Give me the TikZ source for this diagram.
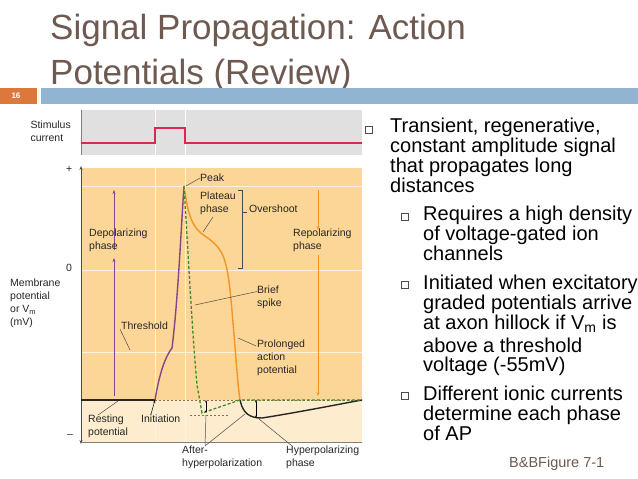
\documentclass[tikz,border=0pt]{standalone}
\usepackage{fontspec}
\setmainfont{Liberation Sans}
\usetikzlibrary{arrows.meta}
\definecolor{titlec}{RGB}{110,90,80}
\definecolor{numc}{RGB}{220,120,60}
\definecolor{barc}{RGB}{145,180,210}
\definecolor{stimc}{RGB}{220,40,80}
\definecolor{panelc}{RGB}{252,214,150}
\definecolor{panell}{RGB}{253,236,205}
\definecolor{purp}{RGB}{130,70,140}
\definecolor{orng}{RGB}{240,150,40}
\definecolor{grn}{RGB}{60,140,40}
\definecolor{refc}{RGB}{150,110,60}
\begin{document}
\begin{tikzpicture}[x=1pt,y=-1pt,
  lab/.style={font=\fontsize{10.5}{12.8}\selectfont,text=black!85,align=left,anchor=north west,inner sep=0pt},
  body/.style={font=\fontsize{20}{19.8}\selectfont,align=left,anchor=north west,inner sep=0pt,text=black},
  bul/.style={draw=black!70,line width=0.5pt,minimum size=7pt,inner sep=0pt},
  lead/.style={draw=black!70,line width=0.5pt}]
\useasboundingbox (0,0) rectangle (638,479);
\fill[white] (0,0) rectangle (638,479);
% title
\node[anchor=west,inner sep=0pt,text=titlec,font=\fontsize{35}{45}\selectfont,align=left] (title) at (50,53) {Signal Propagation: Action\\Potentials (Review)};
\fill[numc] (0,88) rectangle (37,104);
\node[text=white,font=\bfseries\fontsize{8}{9}\selectfont] (num) at (16,96) {16};
\fill[barc] (41,88) rectangle (638,104);
% stimulus panel
\fill[black!12] (81,110) rectangle (362,155);
\draw[black!50,line width=0.5pt] (81,110) -- (81,155);
\draw[white,line width=0.6pt] (155,110)--(155,155) (185,110)--(185,155);
\draw[stimc,line width=1.2pt] (81,143) -- (155,143) -- (155,128) -- (185,128) -- (185,143) -- (362,143);
\node[lab,anchor=north east] (stim) at (71,121) {Stimulus\\current};
% main panel
\fill[panelc] (81,168) rectangle (362,400);
\fill[panell] (81,400) rectangle (362,442);
\draw[white!70!panelc,line width=0.4pt] (81,186)--(362,186) (81,270)--(362,270) (81,352)--(362,352) (155,168)--(155,442) (185,168)--(185,442);
\draw[black!70,line width=0.7pt,{Stealth[length=4pt]}-{Stealth[length=4pt]}] (81,166) -- (81,444);
\draw[black!50,line width=0.5pt] (81,442) -- (362,442);
\node[lab] (plus) at (66,166) {+};
\node[lab] (zero) at (66,264) {0};
\node[lab] (minus) at (67,434) {--};
\node[lab] (mem) at (10,279) {Membrane\\potential\\or V\textsubscript{m}\\(mV)};
% reference dashed lines
\draw[refc,dash pattern=on 2pt off 2pt,line width=0.5pt] (155,400) -- (362,400) (190,415) -- (228,415);
% curves
\draw[black!85,line width=1.4pt] (81,400) -- (155,400);
\draw[purp,line width=1.4pt] (155,400) .. controls (160,370) and (166,356) .. (172,348) .. controls (178,300) and (181,230) .. (184,186);
\draw[orng,line width=1.4pt] (184,186) .. controls (188,215) and (192,228) .. (205,236) .. controls (222,248) and (226,255) .. (230,290) .. controls (235,340) and (237,380) .. (240,400);
\draw[black!85,line width=1.4pt] (240,400) .. controls (243,414) and (250,418) .. (262,418) .. controls (300,412) and (340,404) .. (362,400);
\draw[grn,line width=1.3pt,dash pattern=on 3pt off 2pt] (184,186) .. controls (188,250) and (192,330) .. (197,385) -- (202,413) -- (240,400) -- (362,400);
\draw[black,line width=0.5pt,{Stealth[length=2.5pt]}-{Stealth[length=2.5pt]}] (206,400) -- (206,413);
\draw[black,line width=0.5pt,{Stealth[length=2.5pt]}-{Stealth[length=2.5pt]}] (256,400) -- (256,418);
% phase arrows
\draw[purp,line width=0.8pt,-{Stealth[length=4pt]}] (114,396) -- (114,258);
\draw[purp,line width=0.8pt,-{Stealth[length=4pt]}] (114,250) -- (114,190);
\draw[orng,line width=0.8pt,-{Stealth[length=4pt]}] (318,190) -- (318,230);
\draw[orng,line width=0.8pt,-{Stealth[length=4pt]}] (318,255) -- (318,396);
% labels
\node[lab] (peak) at (200,174) {Peak};
\draw[lead] (peak.west) -- (186,186);
\node[lab] (plat) at (200,192) {Plateau\\phase};
\draw[lead] (plat.south) ++(-5,2) -- (203,232);
\draw[lead] (238,190) -- (242,190) -- (242,268) -- (238,268);
\draw[lead] (242,212) -- (247,212);
\node[lab] (over) at (249,205) {Overshoot};
\node[lab] (dep) at (89,229) {Depolarizing\\phase};
\node[lab] (rep) at (293,229) {Repolarizing\\phase};
\node[lab] (brief) at (257,286) {Brief\\spike};
\draw[lead] (brief.west) ++(0,-6) -- (195,305);
\node[lab] (thr) at (121,322) {Threshold};
\draw[lead] (thr.west) ++(-1,3) -- (130,350);
\node[lab] (prol) at (257,340) {Prolonged\\action\\potential};
\draw[lead] (prol.west) ++(-1,-12) -- (238,338);
\node[lab] (rest) at (88,415) {Resting\\potential};
\draw[lead] (rest.north) ++(-10,0) -- (118,401);
\node[lab] (init) at (141,415) {Initiation};
\draw[black,line width=0.5pt,-{Stealth[length=3pt]}] (init.north) ++(-10,0) -- (155,400);
\node[lab] (after) at (182,446) {After-\\hyperpolarization};
\draw[lead] (205,446) -- (206,415);
\draw[lead] (205,446) -- (245,414);
\node[lab] (hyp) at (286,446) {Hyperpolarizing\\phase};
\draw[lead] (292,446) -- (259,419);
% text
\node[bul] (b1) at (369,130) {};
\node[body] (t1) at (390,118) {Transient, regenerative,\\constant amplitude signal\\that propagates long\\distances};
\node[bul] (b2) at (405,217) {};
\node[body] (t2) at (423,206) {Requires a high density\\of voltage-gated ion\\channels};
\node[bul] (b3) at (405,285) {};
\node[body] (t3) at (423,275) {Initiated when excitatory\\graded potentials arrive\\at axon hillock if V\textsubscript{m} is\\[3pt]above a threshold\\voltage (-55mV)};
\node[bul] (b4) at (405,396) {};
\node[body] (t4) at (423,386) {Different ionic currents\\determine each phase\\of AP};
\node[inner sep=0pt,anchor=north west,font=\fontsize{14.5}{16}\selectfont,text=titlec] (fig) at (509,457) {B\&BFigure 7-1};
\end{tikzpicture}
\end{document}
